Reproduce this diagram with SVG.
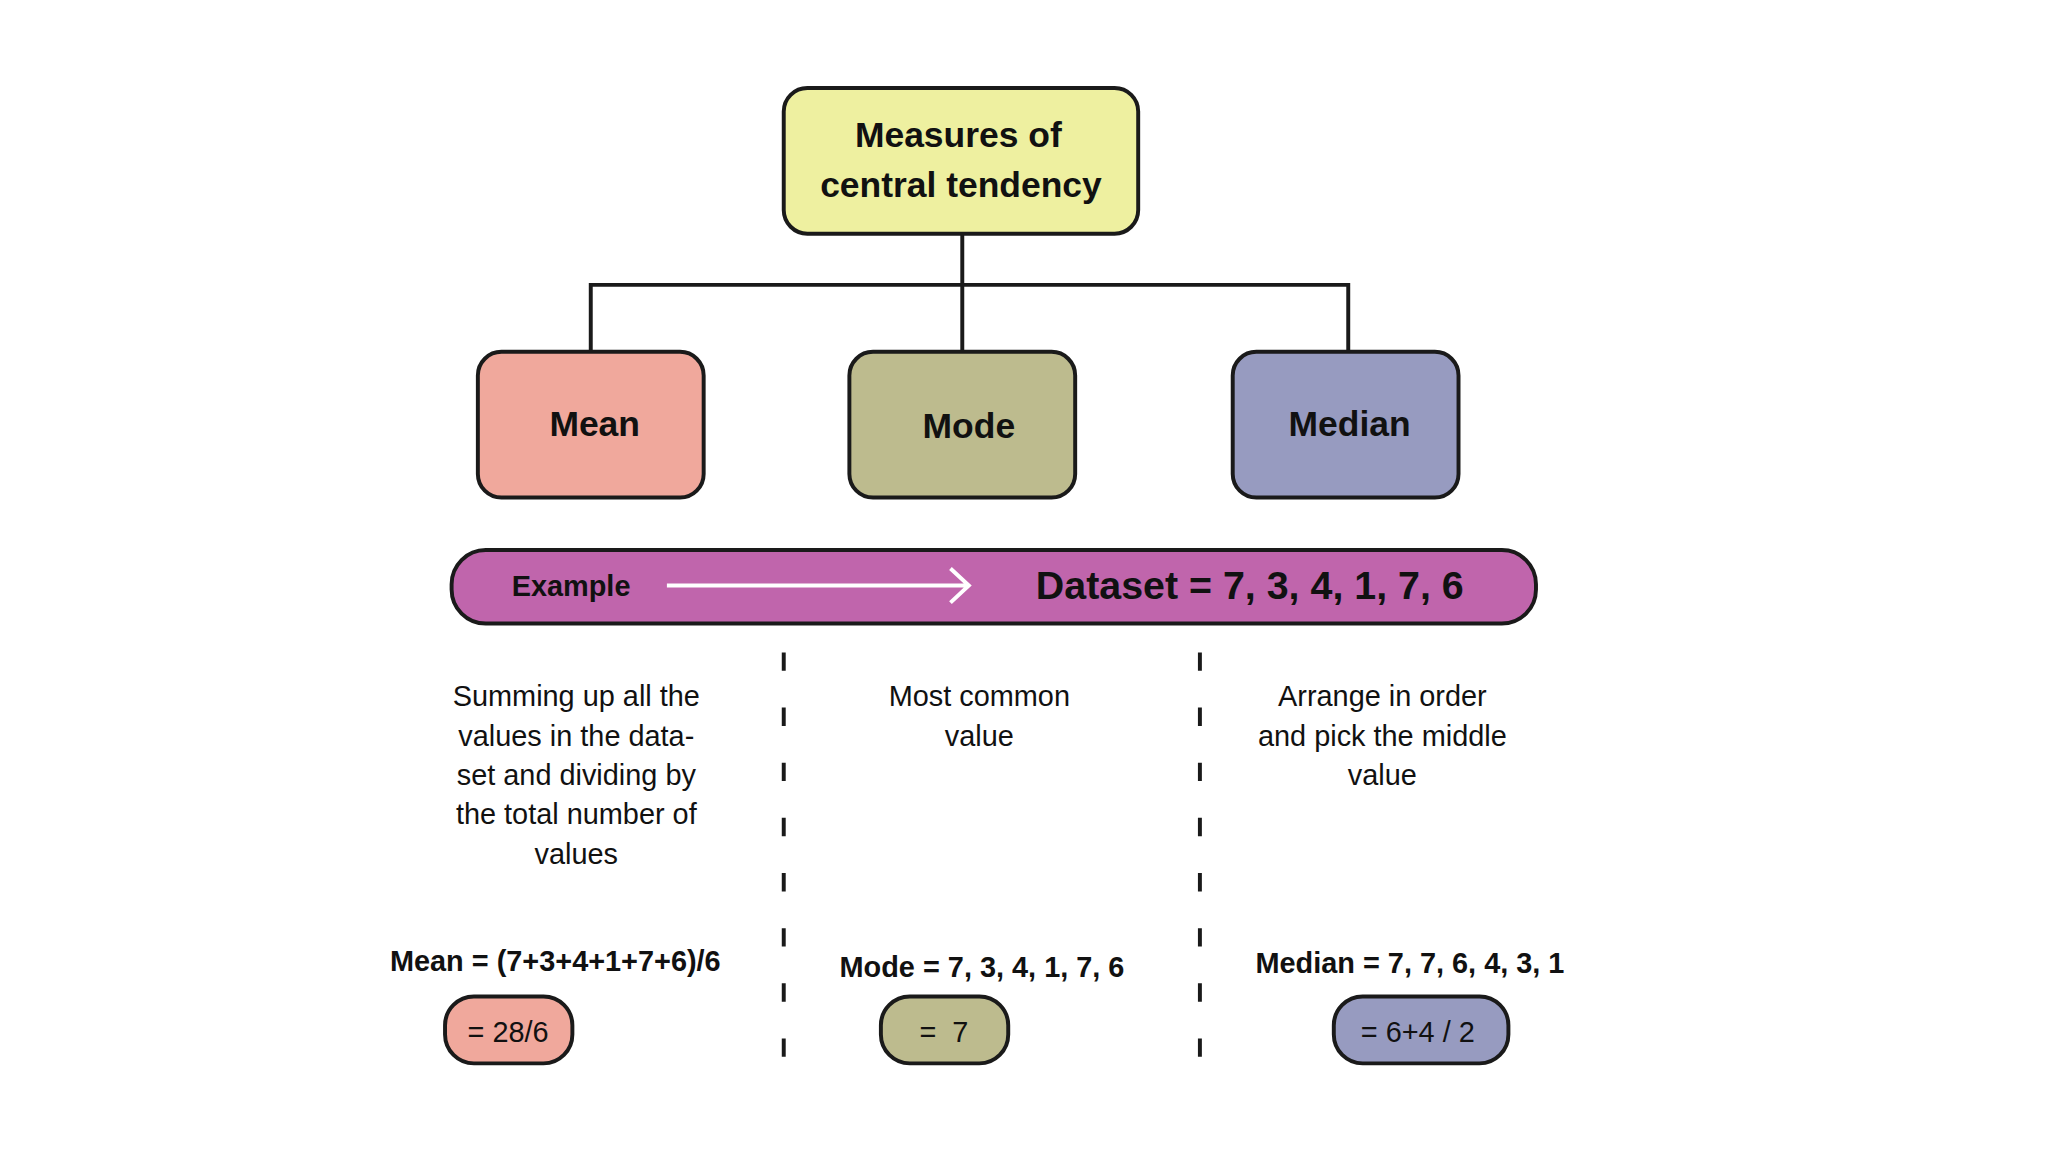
<svg xmlns="http://www.w3.org/2000/svg" width="2048" height="1152" viewBox="0 0 2048 1152">
<style>
.box{stroke:#1a1a1a;stroke-width:3}
.t{font-family:"Liberation Sans",Arial,sans-serif;fill:#111;text-anchor:middle}
.h{font-weight:bold;font-size:27px}
.b{font-weight:bold;font-size:22px}
.r{font-size:22px}
.c{stroke:#1a1a1a;stroke-width:3;fill:none}
</style>
<rect width="2048" height="1152" fill="#fff"/>
<g transform="scale(1.3128)">
<g id="connectors">
<path class="c" d="M733 178V268M450 268V217H1027V268"/>
<path class="c" d="M597 497V812M914 497V812" stroke-dasharray="14 28"/>
</g>
<g id="root"><rect class="box" x="597" y="67" width="270" height="111" rx="18" fill="#EEF0A0"/>
<text class="t h" x="730" y="112">Measures of</text><text class="t h" x="732" y="150">central tendency</text></g>
<g id="mean"><rect class="box" x="364" y="268" width="172" height="111" rx="18" fill="#F0A89C"/><text class="t h" x="453" y="332">Mean</text></g>
<g id="mode"><rect class="box" x="647" y="268" width="172" height="111" rx="18" fill="#BDBB8E"/><text class="t h" x="738" y="334">Mode</text></g>
<g id="median"><rect class="box" x="939" y="268" width="172" height="111" rx="18" fill="#979BC0"/><text class="t h" x="1028" y="332">Median</text></g>
<g id="example"><rect class="box" x="344" y="419" width="826" height="56" rx="26" fill="#C065AC"/>
<text class="t b" x="435" y="454">Example</text>
<path d="M508 446H736M724 433L738 446L724 459" stroke="#fff" stroke-width="3" fill="none"/>
<text class="t" x="952" y="456" style="font-weight:bold;font-size:30px">Dataset = 7, 3, 4, 1, 7, 6</text></g>
<g id="desc">
<text class="t r" x="439" y="538">Summing up all the</text>
<text class="t r" x="439" y="568">values in the data-</text>
<text class="t r" x="439" y="598">set and dividing by</text>
<text class="t r" x="439" y="628">the total number of</text>
<text class="t r" x="439" y="658">values</text>
<text class="t r" x="746" y="538">Most common</text>
<text class="t r" x="746" y="568">value</text>
<text class="t r" x="1053" y="538">Arrange in order</text>
<text class="t r" x="1053" y="568">and pick the middle</text>
<text class="t r" x="1053" y="598">value</text>
</g>
<g id="formulas">
<text class="t b" x="423" y="740">Mean = (7+3+4+1+7+6)/6</text>
<text class="t b" x="748" y="744">Mode = 7, 3, 4, 1, 7, 6</text>
<text class="t b" x="1074" y="741">Median = 7, 7, 6, 4, 3, 1</text>
</g>
<g id="res-mean"><rect class="box" x="339" y="759" width="97" height="51" rx="22" fill="#F0A89C"/><text class="t r" x="387" y="794">= 28/6</text></g>
<g id="res-mode"><rect class="box" x="671" y="759" width="97" height="51" rx="22" fill="#BDBB8E"/><text class="t r" x="719" y="794" xml:space="preserve">=  7</text></g>
<g id="res-median"><rect class="box" x="1016" y="759" width="133" height="51" rx="22" fill="#979BC0"/><text class="t r" x="1080" y="794">= 6+4 / 2</text></g>
</g>
</svg>
